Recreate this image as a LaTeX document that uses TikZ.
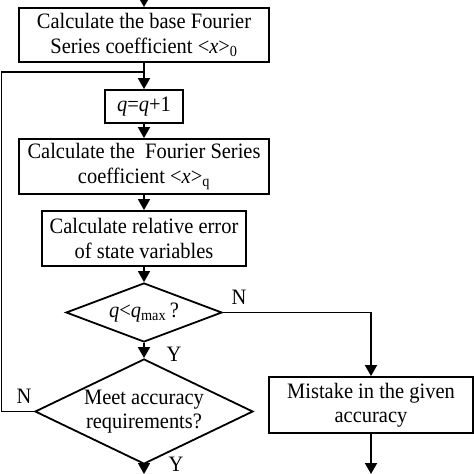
\documentclass[tikz,border=0pt]{standalone}
\usepackage{fontspec}
\setmainfont[FakeStretch=0.93]{Liberation Serif}
\usetikzlibrary{arrows.meta,shapes.geometric}
\begin{document}
\begin{tikzpicture}[x=1pt,y=-1pt,
  every node/.style={font=\fontsize{22}{24.5}\selectfont},
  box/.style={draw, line width=1.8pt, inner sep=0pt, align=center},
  dia/.style={draw, diamond, line width=1.8pt, inner sep=0pt},
  lbl/.style={inner sep=0pt, align=center},
  conn/.style={line width=1.8pt},
  arr/.style={conn, -{Triangle[length=11pt,width=12pt]}}]
\useasboundingbox (0,0) rectangle (474,474);
% boxes
\node[box, minimum width=250, minimum height=54] (b1) at (144,35)
  {Calculate the base Fourier\\Series coefficient <\textit{x}>\textsubscript{0}};
\node[box, minimum width=78, minimum height=33] (b2) at (144,106.5)
  {\textit{q}=\textit{q}+1};
\node[box, minimum width=250, minimum height=55] (b3) at (144,166.5)
  {Calculate the\ \ Fourier Series\\coefficient <\textit{x}>\textsubscript{q}};
\node[box, minimum width=204, minimum height=55] (b4) at (144,238.5)
  {Calculate relative error\\of state variables};
\node[dia, minimum width=156, minimum height=59] (d1) at (144,312.5) {};
\node[lbl] (t1) at (d1.center) {\textit{q}<\textit{q}\textsubscript{max}\,?};
\node[dia, minimum width=218, minimum height=105] (d2) at (144,411.5) {};
\node[lbl] (t2) at (d2.center) {Meet accuracy\\requirements?};
\node[box, minimum width=204, minimum height=56] (b5) at (371,405)
  {Mistake in the given\\accuracy};
% coordinates
\coordinate (top) at (144,0);
\coordinate (j) at (144,72);
\coordinate (lf) at (1.5,411.5);
\coordinate (bot1) at (144,474);
\coordinate (bot2) at (371,474);
% connectors
\draw[arr] (top) -- (b1.north);
\draw[arr] (b1.south) -- (b2.north);
\draw[arr] (b2.south) -- (b3.north);
\draw[arr] (b3.south) -- (b4.north);
\draw[arr] (b4.south) -- (d1.north);
\draw[arr] (d1.south) -- (d2.north);
\draw[arr] (d1.east) -| (b5.north);
\draw[conn] (d2.west) -- (lf) |- (j);
\draw[arr] (d2.south) -- (bot1);
\draw[arr] (b5.south) -- (bot2);
% labels
\node[lbl] (n1) at (239,297) {N};
\node[lbl] (y1) at (174,354) {Y};
\node[lbl] (n2) at (24,396) {N};
\node[lbl] (y2) at (176,464) {Y};
\end{tikzpicture}
\end{document}
